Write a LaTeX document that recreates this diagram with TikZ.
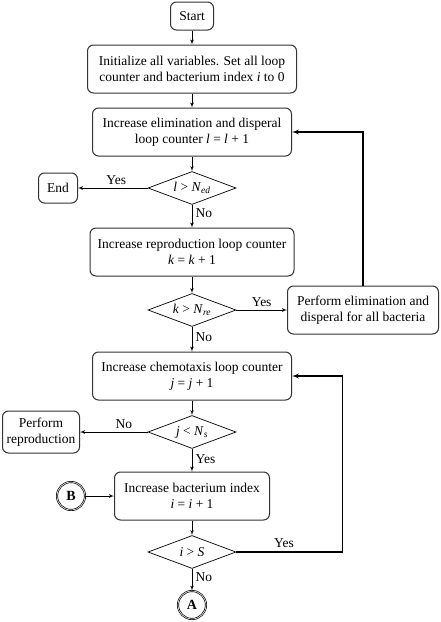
\documentclass[tikz,border=0pt]{standalone}
\usepackage{fontspec}
\setmainfont{Liberation Serif}
\usetikzlibrary{shapes,arrows}
\tikzstyle{line} = [draw, -latex', line width=0.7pt]
\tikzstyle{loopline} = [draw, -latex', line width=1.3pt]
\tikzstyle{box} = [rectangle, draw=black!80, line width=1pt, rounded corners=6pt, minimum height=48pt, align=center, inner sep=2pt]
\tikzstyle{decision} = [diamond, draw, line width=0.7pt, aspect=2.67, minimum width=88pt, minimum height=33pt, inner sep=0pt]
\tikzstyle{connector} = [circle, draw, double, line width=0.7pt, minimum size=28pt, inner sep=0pt, font=\fontsize{14}{14}\selectfont\bfseries]

\begin{document}
\begin{tikzpicture}[every node/.style={font=\fontsize{13.5}{16}\selectfont}]
	\useasboundingbox (0,0) rectangle (440pt,-622pt);

	\node [box, minimum width=43pt, minimum height=28pt] (start) at (192pt,-16pt) {Start};
	\node [box, below of = start, node distance = 53pt, minimum width=209pt] (init) {Initialize all variables. Set all loop\\counter and bacterium index \textit{i} to 0};
	\node [box, below of = init, node distance = 63pt, minimum width=199pt] (elim) {Increase elimination and disperal\\loop counter \textit{l} = \textit{l} + 1};
	\node [decision, below of = elim, node distance = 56pt] (ded) {\textit{l} > \textit{N}\textsubscript{\textit{ed}}};
	\node [box, left of = ded, node distance = 134pt, minimum width=39pt, minimum height=30pt] (end) {End};
	\node [box, below of = ded, node distance = 64pt, minimum width=204pt] (repro) {Increase reproduction loop counter\\\textit{k} = \textit{k} + 1};
	\node [decision, below of = repro, node distance = 58pt] (dre) {\textit{k} > \textit{N}\textsubscript{\textit{re}}};
	\node [box, right of = dre, node distance = 171pt, minimum width=151pt] (pelim) {Perform elimination and\\disperal for all bacteria};
	\node [box, below of = dre, node distance = 66pt, minimum width=199pt] (chemo) {Increase chemotaxis loop counter\\\textit{j} = \textit{j} + 1};
	\node [decision, below of = chemo, node distance = 56pt] (ds) {\textit{j} < \textit{N}\textsubscript{\textit{s}}};
	\node [box, left of = ds, node distance = 151pt, minimum width=77pt, minimum height=42pt] (prepro) {Perform\\reproduction};
	\node [box, below of = ds, node distance = 64pt, minimum width=155pt] (bact) {Increase bacterium index\\\textit{i} = \textit{i} + 1};
	\node [connector, left of = bact, node distance = 121pt] (b) {B};
	\node [decision, below of = bact, node distance = 56pt] (dsize) {\textit{i} > \textit{S}};
	\node [connector, below of = dsize, node distance = 53pt] (a) {A};

	\path [line] (start) -- (init);
	\path [line] (init) -- (elim);
	\path [line] (elim) -- (ded);
	\path [line] (ded.west) -- node [above, pos=0.45] {Yes} (end.east);
	\path [line] (ded.south) -- node [right, pos=0.35] {No} (repro.north);
	\path [line] (repro) -- (dre);
	\path [line] (dre.east) -- node [above] {Yes} (pelim.west);
	\path [loopline] (pelim.north) |- (elim.east);
	\path [line] (dre.south) -- node [right, pos=0.4] {No} (chemo.north);
	\path [line] (chemo) -- (ds);
	\path [line] (ds.west) -- node [above, pos=0.35] {No} (prepro.east);
	\path [line] (ds.south) -- node [right, pos=0.45] {Yes} (bact.north);
	\path [line] (b.east) -- (bact.west);
	\path [line] (bact) -- (dsize);
	\path [loopline] (dsize.east) -- node [above, pos=0.45] {Yes} ++(106pt,0) |- (chemo.east);
	\path [line] (dsize.south) -- node [right, pos=0.4] {No} (a.north);
\end{tikzpicture}
\end{document}
